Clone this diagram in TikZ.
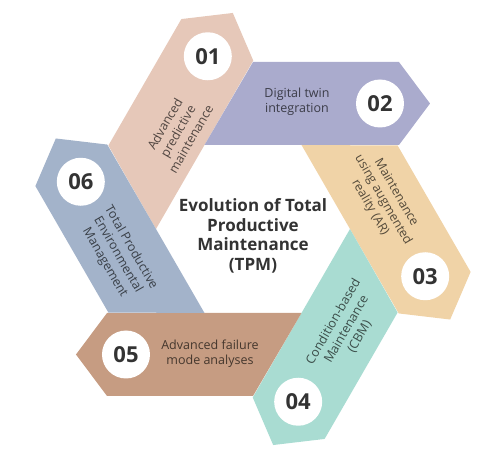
\documentclass[tikz,border=0pt]{standalone}
\usepackage{fontspec}
\setmainfont{Open Sans}
\definecolor{tpmpink}{HTML}{E6C8B9}
\definecolor{tpmlilac}{HTML}{AAABCD}
\definecolor{tpmsand}{HTML}{F0D3A7}
\definecolor{tpmmint}{HTML}{A9DCD2}
\definecolor{tpmclay}{HTML}{C69C82}
\definecolor{tpmslate}{HTML}{A3B3CA}
\definecolor{tpmink}{HTML}{333333}
\tikzset{
  numdisc/.style={circle, fill=white, minimum size=48pt, inner sep=0pt,
    text=tpmink, font=\fontsize{22}{24}\selectfont\bfseries},
  steplabel/.style={align=center, font=\fontsize{12.5}{15}\selectfont},
  headline/.style={align=center, text=tpmink, font=\fontsize{17}{19.5}\selectfont\bfseries}
}
\begin{document}
\begin{tikzpicture}[x=1pt, y=1pt, line join=round]
    \useasboundingbox (-253,-221) rectangle (227,229);

    % six arrow bands, each turned by 60 degrees
    \foreach \n/\a/\c/\t/\lx/\ly/\txt in {
        1/60/tpmpink/60/47/114/{Advanced\\predictive\\maintenance},
        2/0/tpmlilac/0/44/127/{Digital twin\\integration},
        3/-60/tpmsand/-60/40/127/{Maintenance\\using augmented\\reality (AR)},
        4/-120/tpmmint/60/40/131/{Condition-based\\Maintenance\\(CBM)},
        5/-180/tpmclay/0/43/125/{Advanced failure\\mode analyses},
        6/-240/tpmslate/-60/45/130/{Total Productive\\Environmental\\Management}} {
        \begin{scope}[rotate=\a]
            \fill[\c] (-48.5,84) -- (0,167) -- (146,167) -- (177,125.5) -- (146,84) -- cycle; % band
            \node[numdisc] (num\n) at (127,125.5) {0\n};
            \node[steplabel, text=\c!35!black, rotate=\t] (lbl\n) at (\lx,\ly) {\txt};
        \end{scope}
    }

    % centre title
    \node[headline] (title) at (0,-7) {Evolution of Total\\Productive\\Maintenance\\(TPM)};
\end{tikzpicture}
\end{document}
